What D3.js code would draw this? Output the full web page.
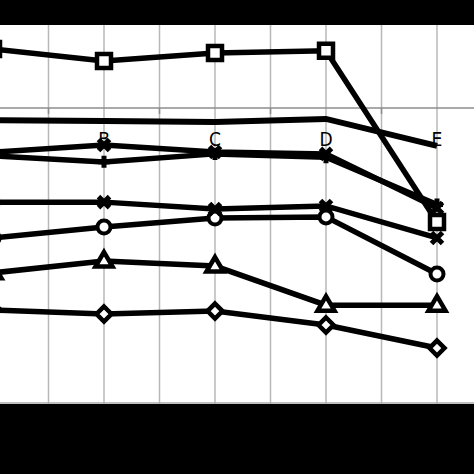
<!DOCTYPE html>
<html>
<head>
<meta charset="utf-8">
<script src="https://cdn.jsdelivr.net/npm/d3@7"></script>
<style>
  html, body { margin: 0; padding: 0; background: #fff; }
  svg { display: block; }
</style>
</head>
<body>
<svg id="chart" width="474" height="474"></svg>
<script>
// Data (y in plot units where the gridline = 1)
const categories = ["A", "B", "C", "D", "E"];
const pointLabels = ["B", "C", "D", "E"];
const squareVals = [1.199, 1.159, 1.186, 1.193, 0.615];
const plainVals = [0.959, 0.956, 0.953, 0.963, 0.872];
const crossUpVals = [0.851, 0.875, 0.851, 0.845, 0.662];
const plusVals = [0.838, 0.818, 0.845, 0.834, 0.674];
const crossLowVals = [0.682, 0.682, 0.659, 0.669, 0.561];
const circleVals = [0.561, 0.598, 0.628, 0.632, 0.439];
const triangleVals = [0.443, 0.483, 0.466, 0.334, 0.334];
const diamondVals = [0.318, 0.304, 0.314, 0.267, 0.189];
const yGridVals = [1];

// Series table, drawn bottom to top
const series = [
    { values: diamondVals, marker: "diamond" },
    { values: triangleVals, marker: "triangle" },
    { values: circleVals, marker: "circle" },
    { values: crossLowVals, marker: "x" },
    { values: plainVals, marker: null },
    { values: plusVals, marker: "plus" },
    { values: crossUpVals, marker: "x" },
    { values: squareVals, marker: "square" }
];

const W = 474, H = 474;
const plotTop = 25, plotBottom = 404;
const labelLevel = 0.872; // where the point letters sit

const svg = d3.select("#chart");

// Scales
const x = d3.scalePoint()
    .domain(categories)
    .range([-7, 437]);
const y = d3.scaleLinear()
    .domain([0, 1])
    .range([plotBottom, 108]);
const half = x.step() / 2;

// Background
svg.append("rect")
    .attr("width", W)
    .attr("height", H)
    .attr("fill", "#fff");

// Vertical gridlines (at each category and halfway between)
const gridGroup = svg.append("g");
const vPos = [];
categories.forEach(c => { vPos.push(x(c)); vPos.push(x(c) + half); });
gridGroup.selectAll("line.v")
    .data(vPos)
    .enter()
    .append("line")
    .attr("class", "v")
    .attr("x1", d => d)
    .attr("x2", d => d)
    .attr("y1", plotTop)
    .attr("y2", plotBottom)
    .attr("stroke", "#b8b8b8")
    .attr("stroke-width", 1.5);

// Horizontal gridline + small tick marks
gridGroup.selectAll("line.h")
    .data(yGridVals)
    .enter()
    .append("line")
    .attr("class", "h")
    .attr("x1", 0)
    .attr("x2", W)
    .attr("y1", d => y(d))
    .attr("y2", d => y(d))
    .attr("stroke", "#8c8c8c")
    .attr("stroke-width", 1.5);
gridGroup.selectAll("line.t")
    .data(categories.map(c => x(c) + half))
    .enter()
    .append("line")
    .attr("class", "t")
    .attr("x1", d => d)
    .attr("x2", d => d)
    .attr("y1", y(1))
    .attr("y2", y(1) + 6)
    .attr("stroke", "#8c8c8c")
    .attr("stroke-width", 1.5);

// Point letters (sit under the lines)
svg.append("g")
    .selectAll("text")
    .data(pointLabels)
    .enter()
    .append("text")
    .attr("x", d => x(d))
    .attr("y", y(labelLevel))
    .attr("text-anchor", "middle")
    .attr("font-family", "DejaVu Sans Condensed, DejaVu Sans, sans-serif")
    .attr("font-stretch", "condensed")
    .attr("font-weight", 300)
    .attr("font-size", "19px")
    .attr("fill", "#000")
    .text(d => d);

// Lines
const line = d3.line()
    .x((d, i) => x(categories[i]))
    .y(d => y(d));

const markerPaths = {
    square: "M-7,-7 H7 V7 H-7 Z",
    triangle: "M0,-9 L8.5,5.5 L-8.5,5.5 Z",
    diamond: "M0,-7.5 L7.5,0 L0,7.5 L-7.5,0 Z",
    x: "M-5.5,-5.5 L5.5,5.5 M-5.5,5.5 L5.5,-5.5",
    plus: "M-6,0 H6 M0,-6 V6"
};

const seriesGroup = svg.append("g");
series.forEach(s => {
    const g = seriesGroup.append("g");
    g.append("path")
        .attr("d", line(s.values))
        .attr("fill", "none")
        .attr("stroke", "#000")
        .attr("stroke-width", s.marker ? 5.5 : 6)
        .attr("stroke-linejoin", "miter");

    if (!s.marker) return;
    const pts = g.selectAll(".m")
        .data(s.values)
        .enter();
    if (s.marker === "circle") {
        pts.append("circle")
            .attr("cx", (d, i) => x(categories[i]))
            .attr("cy", d => y(d))
            .attr("r", 6.5)
            .attr("fill", "#fff")
            .attr("stroke", "#000")
            .attr("stroke-width", 4);
    } else {
        const open = s.marker === "x" || s.marker === "plus";
        pts.append("path")
            .attr("d", markerPaths[s.marker])
            .attr("transform", (d, i) => `translate(${x(categories[i])},${y(d)})`)
            .attr("fill", open ? "none" : "#fff")
            .attr("stroke", "#000")
            .attr("stroke-width", open ? 5 : 4.5)
            .attr("stroke-linejoin", "miter");
    }
});

// Black bands top and bottom
svg.append("line")
    .attr("x1", 0).attr("x2", W)
    .attr("y1", plotBottom - 1).attr("y2", plotBottom - 1)
    .attr("stroke", "#aaa")
    .attr("stroke-width", 1.5);
svg.append("rect")
    .attr("x", 0).attr("y", 0)
    .attr("width", W).attr("height", plotTop)
    .attr("fill", "#000");
svg.append("rect")
    .attr("x", 0).attr("y", plotBottom)
    .attr("width", W).attr("height", H - plotBottom)
    .attr("fill", "#000");
</script>
</body>
</html>
